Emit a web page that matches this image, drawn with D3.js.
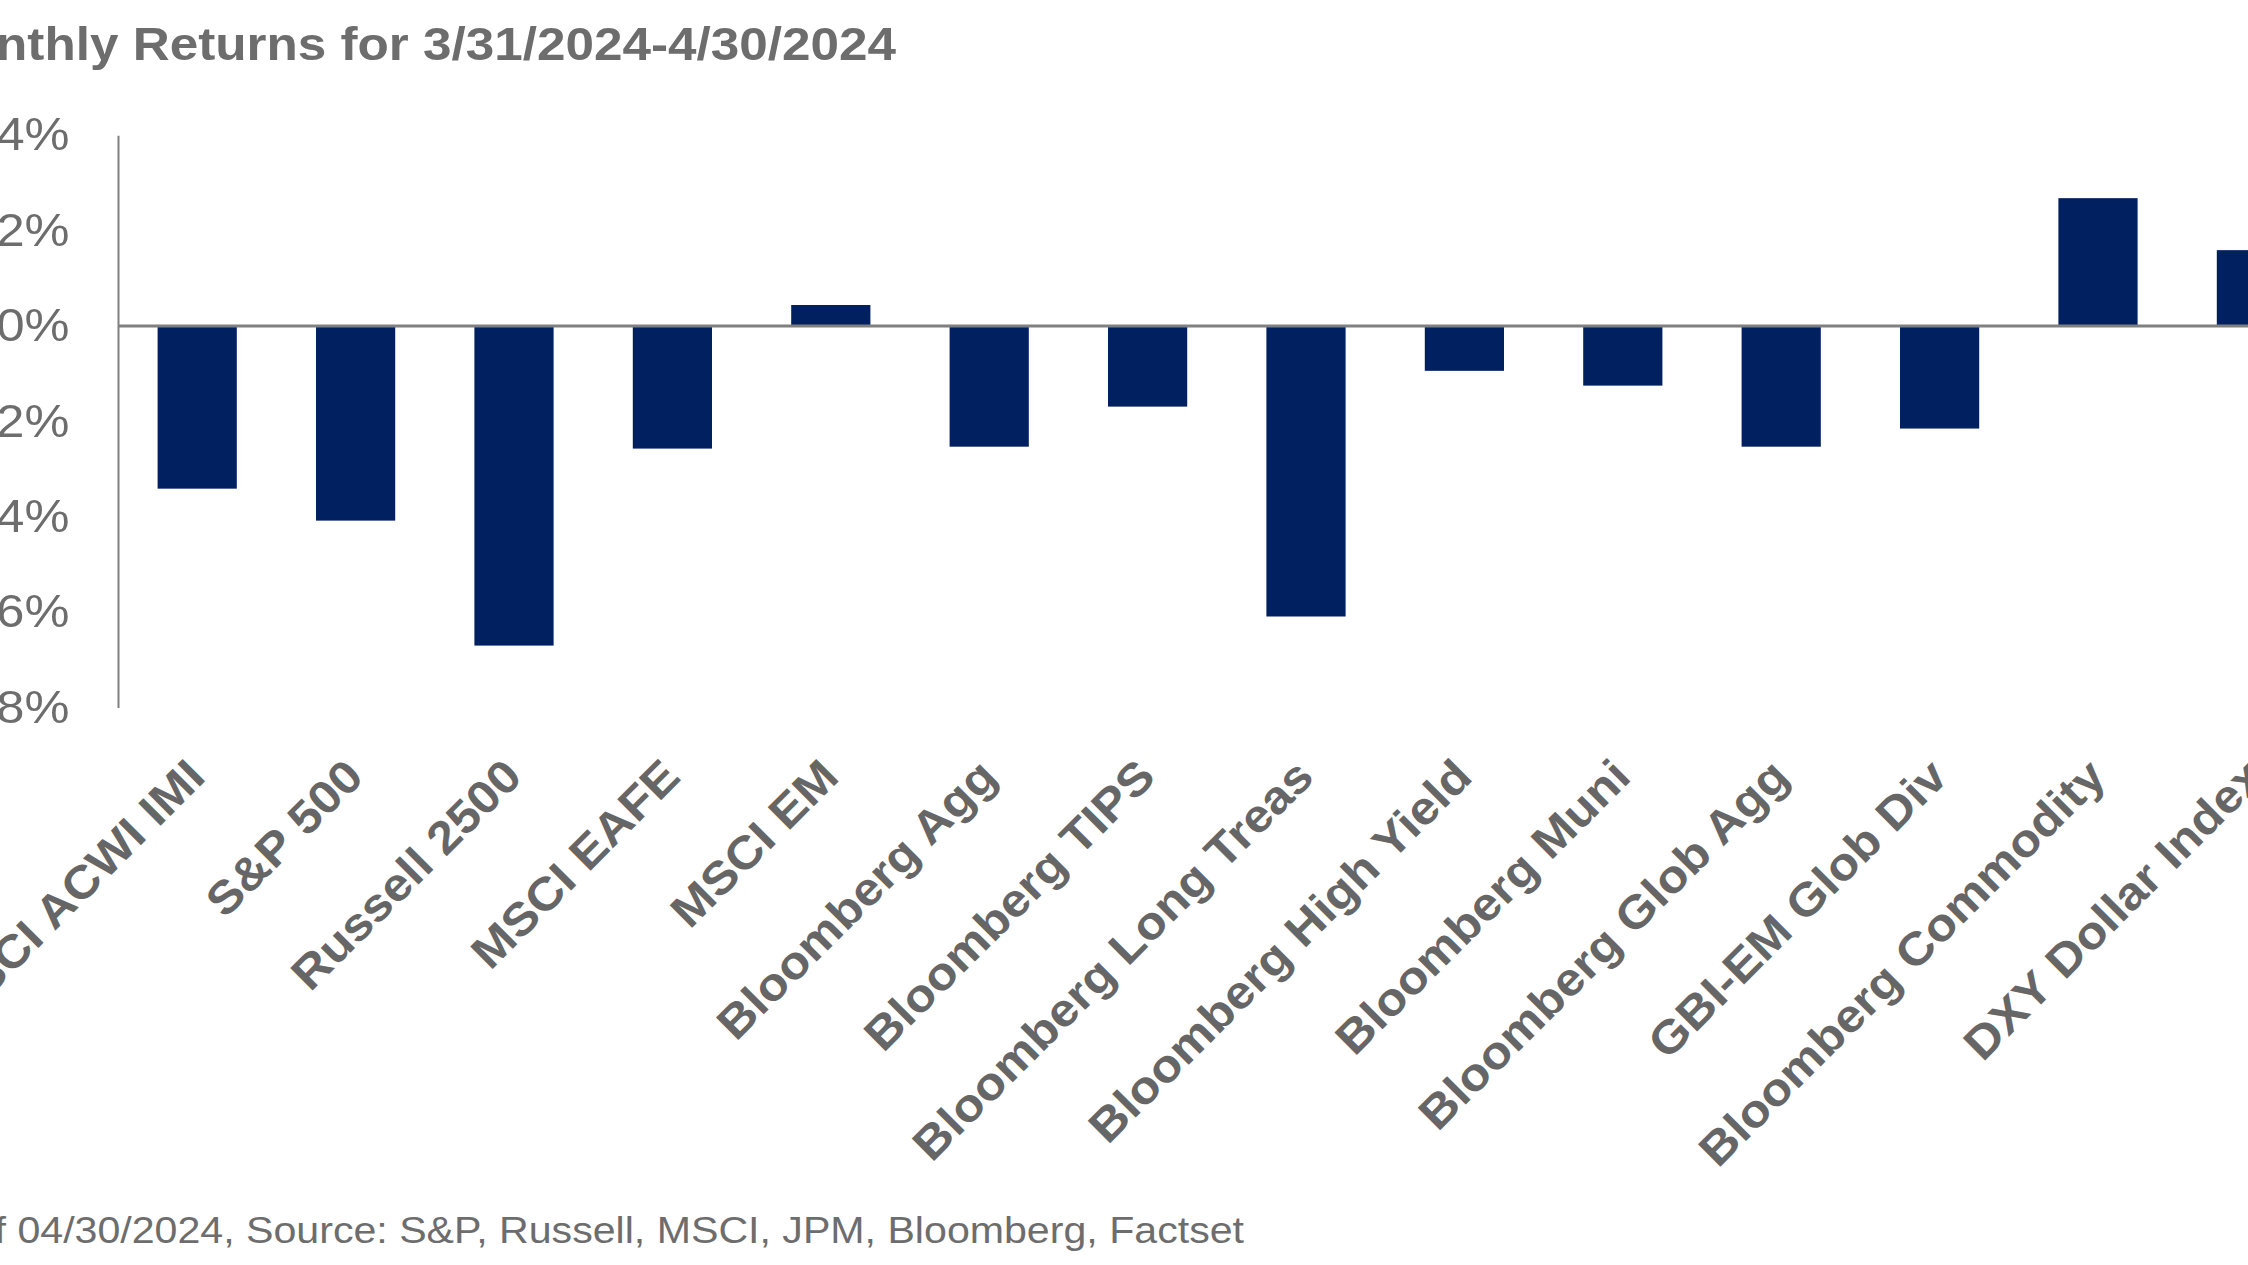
<!DOCTYPE html>
<html>
<head>
<meta charset="utf-8">
<script src="https://cdn.jsdelivr.net/npm/d3@7"></script>
<style>
  html, body { margin: 0; padding: 0; background: #fff; overflow: hidden; }
  svg { display: block; }
  text { font-family: "Liberation Sans", Arial, sans-serif; }
</style>
</head>
<body>
<svg id="chart" width="2248" height="1265"></svg>
<script>
const categories = [
  "MSCI ACWI IMI", "S&P 500", "Russell 2500", "MSCI EAFE", "MSCI EM",
  "Bloomberg Agg", "Bloomberg TIPS", "Bloomberg Long Treas", "Bloomberg High Yield",
  "Bloomberg Muni", "Bloomberg Glob Agg", "GBI-EM Glob Div", "Bloomberg Commodity",
  "DXY Dollar Index"
];
const returns = [-3.41, -4.08, -6.70, -2.57, 0.44, -2.53, -1.69, -6.09, -0.94, -1.25, -2.53, -2.15, 2.68, 1.59];
const tickValues = [-8, -6, -4, -2, 0, 2, 4];
const tickLabels = ["-8%", "-6%", "-4%", "-2%", "0%", "2%", "4%"];
const titleText = "Monthly Returns for 3/31/2024-4/30/2024";
const footText = "As of 04/30/2024, Source: S&P, Russell, MSCI, JPM, Bloomberg, Factset";

const svg = d3.select("#chart");
const axisX = 118;
const step = 158.4;

const x = d3.scaleBand()
  .domain(categories)
  .range([axisX, axisX + step * categories.length])
  .paddingInner(0.5)
  .paddingOuter(0.25);

const y = d3.scaleLinear().domain([-8, 4]).range([707.6, 135.2]);

// Title (horizontally widened to match the reference face)
const title = svg.append("text")
  .attr("text-anchor", "end")
  .attr("font-size", 46).attr("font-weight", "bold")
  .attr("fill", "#6d6d6d")
  .text(titleText);
{
  const node = title.node();
  const W = node.getComputedTextLength();
  const pre = node.getSubStringLength(0, 2); // "Mo"
  const s = 900 / (W - pre);
  title.attr("transform", `translate(896,60) scale(${s},1)`);
}

// Bars
svg.append("g").selectAll("rect")
  .data(categories)
  .join("rect")
  .attr("x", d => x(d))
  .attr("width", x.bandwidth())
  .attr("y", (d, i) => y(Math.max(0, returns[i])))
  .attr("height", (d, i) => Math.abs(y(returns[i]) - y(0)))
  .attr("fill", "#002060");

// Y axis
const yAxis = d3.axisLeft(y)
  .tickValues(tickValues)
  .tickSize(0)
  .tickPadding(0)
  .tickFormat((d, i) => tickLabels[i]);
const gy = svg.append("g").attr("transform", `translate(${axisX},0)`).call(yAxis);
gy.select(".domain").attr("stroke", "#808080").attr("stroke-width", 2);
gy.selectAll(".tick text")
  .attr("x", null)
  .attr("font-size", 46)
  .attr("font-family", "Liberation Sans, Arial, sans-serif")
  .attr("fill", "#6d6d6d")
  .attr("text-anchor", "end")
  .attr("transform", `translate(${69.5 - axisX},0) scale(1.1,1)`);

// Zero line (category axis)
svg.append("line")
  .attr("x1", axisX).attr("x2", 2248)
  .attr("y1", y(0)).attr("y2", y(0))
  .attr("stroke", "#808080").attr("stroke-width", 3);

// Category labels
svg.append("g").selectAll("text")
  .data(categories)
  .join("text")
  .attr("transform", d => `translate(${x(d) + x.bandwidth() / 2 + 10},779) rotate(-45) scale(1.085,1)`)
  .attr("text-anchor", "end")
  .attr("font-size", 46).attr("font-weight", "bold")
  .attr("fill", "#666666")
  .text(d => d);

// Footnote
const foot = svg.append("text")
  .attr("text-anchor", "end")
  .attr("font-size", 37)
  .attr("fill", "#6d6d6d")
  .text(footText);
{
  const node = foot.node();
  const W = node.getComputedTextLength();
  const pre = node.getSubStringLength(0, 6); // "As of "
  const s = (1244 - 17) / (W - pre);
  foot.attr("transform", `translate(1244,1243) scale(${s},1)`);
}
</script>
</body>
</html>
